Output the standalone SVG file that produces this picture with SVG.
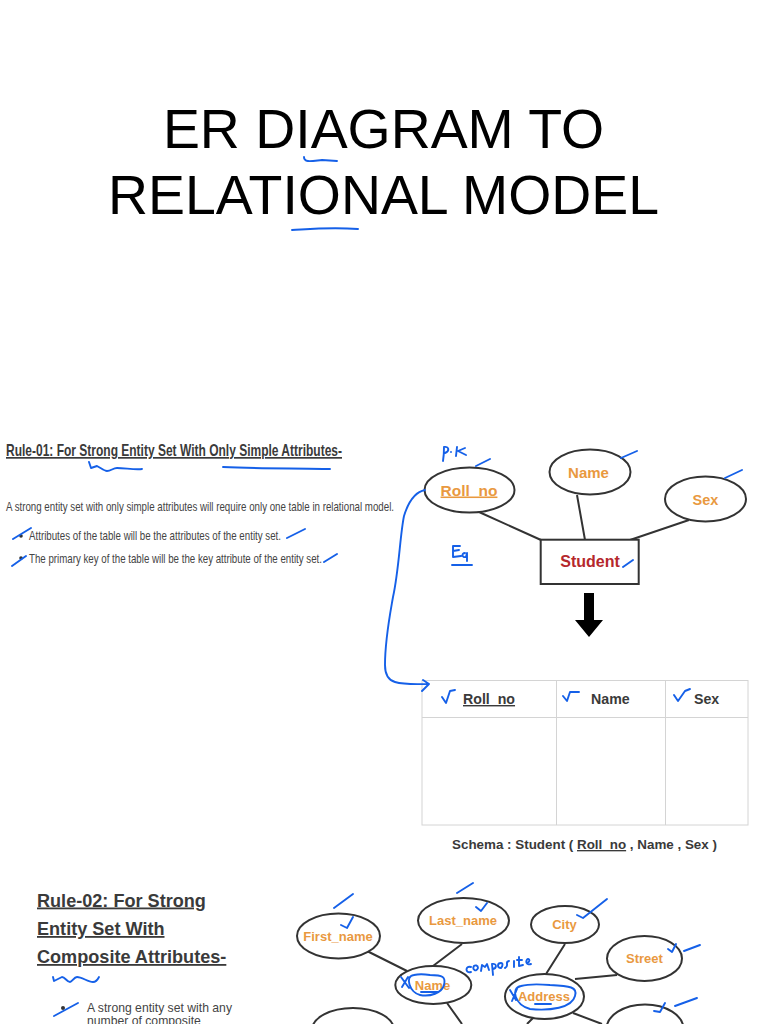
<svg xmlns="http://www.w3.org/2000/svg" width="768" height="1024" viewBox="0 0 768 1024">
<style>
text{font-family:"Liberation Sans",Arial,sans-serif}
.ink{fill:none;stroke:#1560e8;stroke-width:1.9;stroke-linecap:round;stroke-linejoin:round}
.e{fill:#fff;stroke:#333;stroke-width:2}
.c{fill:none;stroke:#333;stroke-width:2}
.o{fill:#e9993f;font-weight:700;font-size:13px;text-anchor:middle}
.t{fill:#3a3a3a;font-weight:700;font-size:14.200px}
.g{fill:none;stroke:#d4d4d4;stroke-width:1}
.r{fill:#444;font-size:13px}
.h{fill:#3a3a3a;font-weight:700;font-size:18.100px}
.b{fill:#444;font-size:12.200px}
</style>
<rect width="768" height="1024" fill="#fff"/>
<g id="title" font-size="55.400" fill="#000" text-anchor="middle">
<text x="383.500" y="148">ER DIAGRAM TO</text>
<text x="383.500" y="214">RELATIONAL MODEL</text>
</g>
<g id="rule01">
<text x="6" y="456" font-size="17" font-weight="700" fill="#3a3a3a" text-decoration="underline" textLength="336" lengthAdjust="spacingAndGlyphs">Rule-01: For Strong Entity Set With Only Simple Attributes-</text>
<text class="r" x="6" y="511" textLength="388" lengthAdjust="spacingAndGlyphs">A strong entity set with only simple attributes will require only one table in relational model.</text>
<circle cx="21" cy="536" r="1.800" fill="#333"/>
<circle cx="21" cy="558" r="1.800" fill="#333"/>
<text class="r" x="29" y="540" textLength="252" lengthAdjust="spacingAndGlyphs">Attributes of the table will be the attributes of the entity set.</text>
<text class="r" x="29" y="563" textLength="293" lengthAdjust="spacingAndGlyphs">The primary key of the table will be the key attribute of the entity set.</text>
</g>
<g id="connectors">
<path class="c" d="M479 512L541 540M577 495L585 540M689 520L630 540"/>
<path class="c" d="M367 951L407 971M462 944L433 966M565 944L546 974M575 979L617 975M447 1003L462 1024M573 1013L602 1024M533 1018L527 1024"/>
</g>
<g id="node-roll-no"><ellipse class="e" cx="469.500" cy="490" rx="45" ry="22.500"/><text class="o" x="469" y="495.500" style="font-size:15.500px" text-decoration="underline">Roll_no</text></g>
<g id="node-name"><ellipse class="e" cx="590" cy="472" rx="40.500" ry="22.500"/><text class="o" x="588.500" y="477.500" style="font-size:15px">Name</text></g>
<g id="node-sex"><ellipse class="e" cx="705.500" cy="499" rx="40.500" ry="22.500"/><text class="o" x="705.500" y="504.500" style="font-size:14.500px">Sex</text></g>
<g id="node-student"><rect x="540.700" y="539.700" width="98" height="44.300" fill="#fff" stroke="#333" stroke-width="2"/><text x="590" y="567" font-size="16" font-weight="700" fill="#b5282c" text-anchor="middle">Student</text></g>
<polygon id="down-arrow" points="584,593 594,593 594,620 603,620 589,637 575,620 584,620" fill="#000"/>
<g id="table">
<rect class="g" x="422" y="680.500" width="326" height="144.500"/>
<path class="g" d="M422 717.500H748M556.500 680.500V825M665.500 680.500V825"/>
<text class="t" x="463" y="704" text-decoration="underline">Roll_no</text>
<text class="t" x="591" y="704">Name</text>
<text class="t" x="694" y="704">Sex</text>
<text class="t" x="452" y="849" style="font-size:13.400px">Schema : Student ( <tspan text-decoration="underline">Roll_no</tspan> , Name , Sex )</text>
</g>
<g id="rule02">
<text class="h" x="37" y="906.500" text-decoration="underline">Rule-02: For Strong</text>
<text class="h" x="37" y="935" text-decoration="underline">Entity Set With</text>
<text class="h" x="37" y="963" text-decoration="underline">Composite Attributes-</text>
<circle cx="63" cy="1008" r="2" fill="#333"/>
<text class="b" x="87" y="1012">A strong entity set with any</text>
<text class="b" x="87" y="1025">number of composite</text>
</g>
<g id="node-first-name"><ellipse class="e" cx="338.500" cy="936" rx="41.500" ry="22.500"/><text class="o" x="338" y="941">First_name</text></g>
<g id="node-last-name"><ellipse class="e" cx="463.500" cy="920.500" rx="45.500" ry="22.500"/><text class="o" x="463" y="925">Last_name</text></g>
<g id="node-city"><ellipse class="e" cx="565" cy="924.500" rx="34" ry="18.500"/><text class="o" x="564.500" y="929">City</text></g>
<g id="node-street"><ellipse class="e" cx="644.500" cy="958.500" rx="37.500" ry="22.500"/><text class="o" x="644.500" y="963">Street</text></g>
<g id="node-name2"><ellipse class="e" cx="433.300" cy="985" rx="38" ry="19"/><text class="o" x="432.500" y="990">Name</text></g>
<g id="node-address"><ellipse class="e" cx="544.500" cy="996.500" rx="39.500" ry="22.500"/><text class="o" x="544" y="1001">Address</text></g>
<g id="node-roll-no-2"><ellipse class="e" cx="353" cy="1030" rx="41" ry="22"/><text class="o" x="347" y="1033">Roll_no</text></g>
<g id="node-house-no"><ellipse class="e" cx="645" cy="1029" rx="38.500" ry="24.500"/><text class="o" x="642" y="1033">House_no</text></g>
<g id="annotations">
<path class="ink" d="M304 157C304 163 312 161 322 160L337 161M292 230C310 229 330 227 358 229"/>
<path class="ink" d="M89 462L91 468L97 466C101 468 104 471 107 471C111 471 113 468 117 468C125 468 135 470 142 469M223 467C260 469 300 468 330 469"/>
<path class="ink" d="M13 539L31 528M287 538L305 529M12 566L26 556M324 562L337 554"/>
<path class="ink" d="M443 461C444 455 444 450 444 447C449 446 450 451 445 453M451 452V452M457 447L456 456M465 448L458 451L466 455"/>
<path class="ink" d="M476 466L490 459M621 458L637 451M725 478L742 470M623 567L633 560"/>
<path class="ink" d="M460 546L453 546V557L461 556M453 551L459 550M452 565H472M465 553C461 553 462 558 466 557L467 553V561"/>
<path class="ink" d="M425 490C415 492 408 503 404 516C400 535 399 570 393 597C389 620 385 640 385 665C385 675 388 680 395 682C405 685 418 684 428 684M423 680L429 684L422 691"/>
<path class="ink" d="M442 697L446 703L450 691L455 690M563 696L567 701L570 692H579M674 695L678 701L685 691L690 689"/>
<path class="ink" d="M53 977L54 981L62 977C65 977 67 982 70 982C72 982 74 977 77 977C82 977 88 982 93 982C96 982 98 979 99 977"/>
<path class="ink" d="M54 1016L78 1003"/>
<path class="ink" d="M334 908L353 894M341 925L347 928L353 917M457 893L473 883M476 907L481 911L487 903M577 915L583 918L607 899M668 949L672 952L676 944M684 951L700 945M654 1011L660 1012L665 1003M675 1006L697 998"/>
<path class="ink" d="M401 977L409 988M408 977L402 987M414 975C404 976 410 993 420 995C430 997 442 993 444 985C446 977 443 975 430 975C424 974 418 974 414 975M421 992H437"/>
<path class="ink" d="M510 990L516 1000M517 989L512 1001M521 986C510 988 515 1005 530 1009C550 1011 572 1008 575 996C578 987 570 986 550 985C538 984 528 984 521 986M535 1004H551"/>
<path class="ink" d="M471 967C465 965 465 974 471 972M474 966C472 969 476 973 478 968C478 965 475 965 474 966M481 971L482 965L485 967L487 964L489 970M493 975L492 964C497 963 497 968 493 969M501 963C497 963 497 968 501 968C503 966 503 963 501 963M509 961C504 962 510 966 505 968M514 961V967M519 957V966L523 965M517 960H522M527 963C530 962 530 959 528 959C525 960 526 966 531 964"/>
</g>
</svg>
